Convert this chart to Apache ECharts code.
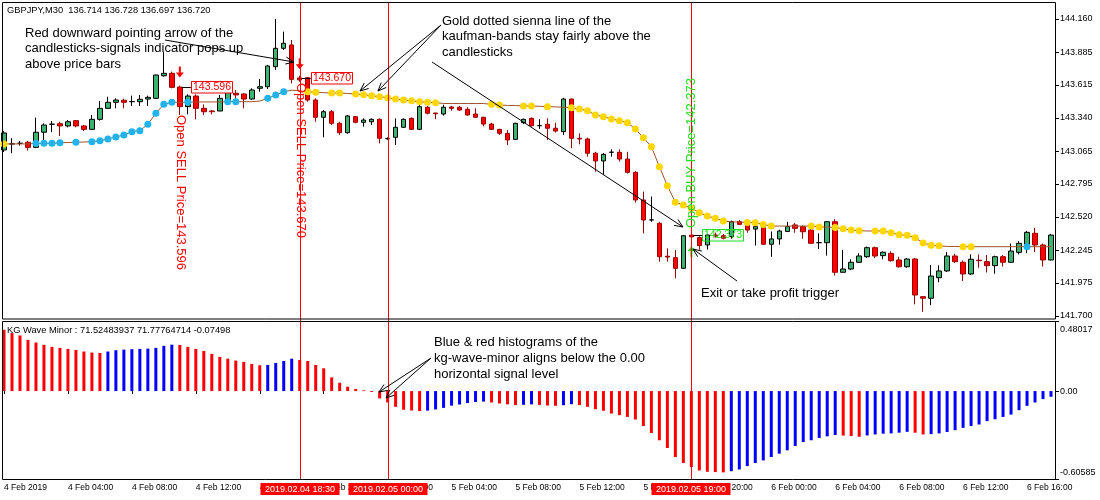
<!DOCTYPE html>
<html><head><meta charset="utf-8">
<script src="https://cdn.jsdelivr.net/npm/echarts@6.0.0/dist/echarts.min.js"></script>
<style>html,body{margin:0;padding:0;background:#fff;}#chart{width:1100px;height:500px;}</style>
</head><body><div id="chart"></div>
<script>
// ---------- DATA (GBPJPY M30) ----------
const opens = [143.075,143.125,143.130,143.139,143.097,143.222,143.288,143.293,143.274,143.318,
143.274,143.246,143.329,143.420,143.470,143.487,143.475,143.475,143.497,143.503,
143.690,143.710,143.596,143.434,143.522,143.420,143.398,143.398,143.489,143.545,
143.539,143.497,143.586,143.599,143.765,143.917,143.945,143.672,143.674,143.489,
143.346,143.392,143.296,143.218,143.351,143.304,143.309,143.329,143.168,143.180,
143.263,143.337,143.246,143.429,143.381,143.373,143.431,143.429,143.412,143.373,
143.346,143.290,143.246,143.213,143.163,143.301,143.337,143.276,143.288,143.255,
143.227,143.497,143.172,143.166,143.048,142.984,143.056,143.056,143.000,142.890,
142.661,142.495,142.468,142.195,142.183,142.095,142.370,142.349,142.288,142.371,
142.365,142.357,142.481,142.453,142.420,142.432,142.294,142.338,142.400,142.454,
142.440,142.412,142.307,142.307,142.481,142.062,142.089,142.145,142.191,142.266,
142.200,142.219,142.164,142.108,142.172,141.860,141.847,142.017,142.073,142.197,
142.145,142.048,142.162,142.150,142.117,142.191,142.145,142.227,142.294,142.385,
142.288,142.164];
const highs = [143.232,143.172,143.150,143.150,143.343,143.296,143.315,143.309,143.323,143.323,
143.282,143.365,143.481,143.516,143.503,143.500,143.525,143.530,143.525,143.700,
143.889,143.724,143.608,143.536,143.536,143.453,143.406,143.530,143.578,143.572,
143.545,143.586,143.663,143.780,144.160,144.055,143.986,143.690,143.680,143.503,
143.406,143.406,143.309,143.365,143.357,143.337,143.337,143.337,143.180,143.337,
143.337,143.345,143.450,143.440,143.383,143.450,143.440,143.440,143.430,143.420,
143.350,143.300,143.250,143.240,143.300,143.335,143.345,143.330,143.337,143.300,
143.508,143.500,143.213,143.177,143.060,143.050,143.080,143.080,143.060,142.900,
142.730,142.690,142.480,142.260,142.247,142.370,142.380,142.360,142.380,142.390,
142.380,142.490,142.495,142.460,142.460,142.445,142.400,142.415,142.480,142.470,
142.450,142.450,142.385,142.487,142.503,142.247,142.170,142.220,142.275,142.275,
142.235,142.235,142.190,142.180,142.180,141.865,142.122,142.120,142.230,142.215,
142.160,142.210,142.210,142.205,142.200,142.205,142.300,142.320,142.405,142.430,
142.300,142.380];
const lows = [143.058,143.048,143.111,143.070,143.090,143.158,143.222,143.191,143.263,143.263,
143.232,143.244,143.318,143.415,143.420,143.420,143.440,143.440,143.440,143.497,
143.682,143.586,143.365,143.371,143.329,143.365,143.371,143.396,143.480,143.448,
143.420,143.489,143.558,143.580,143.738,143.903,143.627,143.640,143.475,143.309,
143.180,143.282,143.200,143.210,143.296,143.268,143.282,143.130,143.160,143.116,
143.257,143.240,143.240,143.370,143.330,143.360,143.400,143.400,143.360,143.340,
143.270,143.240,143.200,143.116,143.160,143.290,143.270,143.250,143.158,143.220,
143.199,143.090,143.122,143.020,142.895,142.870,143.020,142.980,142.880,142.640,
142.385,142.480,142.150,142.150,142.012,142.090,142.340,142.250,142.250,142.350,
142.335,142.340,142.455,142.390,142.283,142.290,142.190,142.290,142.395,142.390,
142.340,142.300,142.255,142.200,142.034,142.060,142.080,142.140,142.180,142.180,
142.170,142.150,142.100,142.100,141.797,141.735,141.790,141.980,142.065,142.140,
141.990,142.040,142.100,142.060,142.050,142.110,142.140,142.210,142.220,142.230,
142.110,142.160];
const closes = [143.216,143.126,143.131,143.097,143.222,143.282,143.289,143.274,143.309,143.274,
143.246,143.329,143.420,143.470,143.489,143.470,143.476,143.495,143.511,143.696,
143.710,143.594,143.434,143.522,143.420,143.392,143.392,143.503,143.558,143.531,
143.497,143.572,143.599,143.771,143.917,143.959,143.660,143.655,143.489,143.346,
143.392,143.296,143.218,143.357,143.304,143.323,143.329,143.172,143.169,143.263,
143.329,143.246,143.434,143.379,143.375,143.429,143.420,143.406,143.365,143.346,
143.290,143.246,143.213,143.158,143.296,143.329,143.276,143.277,143.255,143.232,
143.497,143.172,143.166,143.048,142.984,143.039,143.057,143.000,142.890,142.661,
142.495,142.496,142.191,142.188,142.095,142.365,142.355,142.283,142.371,142.362,
142.344,142.481,142.459,142.412,142.440,142.294,142.338,142.404,142.440,142.426,
142.398,142.302,142.308,142.481,142.062,142.089,142.145,142.197,142.266,142.197,
142.228,142.158,142.108,142.172,141.874,141.847,142.031,142.073,142.197,142.150,
142.048,142.170,142.158,142.117,142.191,142.145,142.238,142.302,142.393,142.288,
142.164,142.370];
// Kaufman band line and its dots (g = gold, b = blue, - = none)
const kaufman = [143.125,143.125,143.125,143.125,143.130,143.130,143.130,143.135,143.137,143.139,
143.141,143.144,143.152,143.166,143.183,143.199,143.227,143.235,143.288,143.379,
143.453,143.470,143.470,143.472,143.473,143.473,143.473,143.473,143.475,143.475,
143.475,143.475,143.480,143.503,143.530,143.558,143.570,143.565,143.558,143.553,
143.550,143.547,143.547,143.543,143.539,143.533,143.525,143.516,143.508,143.497,
143.489,143.483,143.475,143.470,143.467,143.460,143.460,143.460,143.460,143.460,
143.460,143.453,143.448,143.444,143.444,143.439,143.439,143.437,143.434,143.432,
143.430,143.425,143.415,143.400,143.365,143.351,143.332,143.318,143.301,143.249,
143.177,143.102,142.937,142.779,142.642,142.619,142.592,142.556,142.528,142.509,
142.487,142.479,142.479,142.474,142.473,142.458,142.445,142.445,142.445,142.445,
142.445,142.445,142.437,142.437,142.433,142.423,142.412,142.407,142.404,142.404,
142.404,142.390,142.373,142.368,142.349,142.305,142.286,142.281,142.276,142.276,
142.274,142.274,142.274,142.274,142.274,142.274,142.274,142.274,142.274,142.274,
142.274,142.274];
const kaufmanDots = ('g---bbbb-b -bbbbbbbbb bb-b----bb ---bbb--gg -gg-gggggg ggggg----- ' +
  '-gg--gg-g- -ggggggggg gggggggggg g--gggg--- -gg-gggg-g gggggggg-- gg------b- --').replace(/ /g, '').split('');
// KG Wave Minor histogram
const wave = [0.420,0.397,0.381,0.351,0.333,0.317,0.303,0.296,0.289,0.282,
0.271,0.264,0.261,0.271,0.280,0.284,0.287,0.289,0.291,0.296,
0.310,0.318,0.316,0.303,0.289,0.275,0.255,0.234,0.222,0.209,
0.200,0.186,0.177,0.179,0.193,0.206,0.222,0.213,0.206,0.179,
0.156,0.094,0.057,0.030,0.014,0.005,-0.006,-0.050,-0.078,-0.108,
-0.128,-0.133,-0.137,-0.134,-0.126,-0.115,-0.100,-0.092,-0.082,-0.075,
-0.072,-0.078,-0.085,-0.091,-0.096,-0.094,-0.091,-0.095,-0.099,-0.101,
-0.097,-0.090,-0.096,-0.108,-0.124,-0.135,-0.154,-0.165,-0.177,-0.195,
-0.239,-0.287,-0.337,-0.390,-0.452,-0.493,-0.521,-0.544,-0.553,-0.555,
-0.557,-0.549,-0.537,-0.514,-0.493,-0.475,-0.452,-0.429,-0.406,-0.376,
-0.349,-0.337,-0.321,-0.310,-0.301,-0.305,-0.308,-0.313,-0.304,-0.297,
-0.292,-0.290,-0.285,-0.279,-0.285,-0.297,-0.295,-0.290,-0.280,-0.268,
-0.252,-0.239,-0.229,-0.206,-0.193,-0.177,-0.161,-0.131,-0.101,-0.078,
-0.055,-0.039];
const waveColors = ('rrrrrrrrrrrrr bbbbbbbbb rrrrrrrrrrr bbbb rrrrrrrrrrrrrrrr bbbbbbbb rrrr bb rrr bb ' +
  'rrrrrrrrrrrrrrrrrrr bbbbbbbbbbbbbb rrr bbbbbb rr bbbbbbbbbbbbbbbb').replace(/ /g, '').split('');
// axis tick labels
const priceTicks = [144.160,143.885,143.615,143.340,143.065,142.795,142.520,142.245,141.975,141.700];
const waveTicks = [0.48017, 0, -0.60585];
const waveTickLabels = ['0.48017', '0.00', '-0.60585'];
const xTickLabels = ['4 Feb 2019','4 Feb 04:00','4 Feb 08:00','4 Feb 12:00','4 Feb 16:00','4 Feb 20:00',
  '5 Feb 00:00','5 Feb 04:00','5 Feb 08:00','5 Feb 12:00','5 Feb 16:00','5 Feb 20:00',
  '6 Feb 00:00','6 Feb 04:00','6 Feb 08:00','6 Feb 12:00','6 Feb 16:00'];
// signals / trade marks
const vLineBars = [37, 48, 86];
const sellSignals = [{bar: 22, price: 143.720, openPrice: '143.596'}, {bar: 37, price: 143.790, openPrice: '143.670'}];
const buySignals = [{bar: 86, price: 142.233, openPrice: '142.373'}];
const tagPrices = {22: 143.593, 37: 143.671, 86: 142.371};
const headerText = 'GBPJPY,M30  136.714 136.728 136.697 136.720';
const waveHeader = 'KG Wave Minor : 71.52483937 71.77764714 -0.07498';

// ---------- CHART ----------
const FONT = "'Liberation Sans', Arial, sans-serif";
const N = opens.length;
const cats = [];
const pad = n => String(n).padStart(2, '0');
for (let i = 0; i < N; i++) {
  const d = new Date(Date.UTC(2019, 1, 4) + i * 1800000);
  cats.push(d.getUTCFullYear() + '.' + pad(d.getUTCMonth() + 1) + '.' + pad(d.getUTCDate()) + ' ' + pad(d.getUTCHours()) + ':' + pad(d.getUTCMinutes()));
}
const chart = echarts.init(document.getElementById('chart'), null, {renderer: 'canvas'});
const RED = '#ff0000', GREEN_TXT = '#22dd22';
const downArrow = 'path://M3,0 L5,0 L5,6 L8,6 L4,11 L0,6 L3,6 Z';
const upArrow = 'path://M3,11 L5,11 L5,5 L8,5 L4,0 L0,5 L3,5 Z';

chart.setOption({
  animation: false,
  backgroundColor: '#fff',
  grid: [
    {left: -1, top: 3, width: 1056, height: 316, show: false},
    {left: -1, top: 321, width: 1056, height: 158.5, show: false}
  ],
  xAxis: [
    {type: 'category', gridIndex: 0, data: cats, show: false, boundaryGap: true},
    {type: 'category', gridIndex: 1, data: cats, boundaryGap: true,
      axisLine: {show: false},
      axisTick: {show: true, interval: 7, alignWithLabel: true, length: 3, lineStyle: {color: '#000'}},
      axisLabel: {interval: 7, align: 'left', margin: 4, fontSize: 8.5, color: '#000', fontFamily: FONT,
        formatter: (v, idx) => xTickLabels[Math.round(idx / 8)] || ''},
      splitLine: {show: false}}
  ],
  yAxis: [
    {type: 'value', gridIndex: 0, position: 'right', min: 141.6751, max: 144.2925,
      axisLine: {show: false}, splitLine: {show: false},
      axisTick: {show: true, length: 4, customValues: priceTicks, lineStyle: {color: '#000'}},
      axisLabel: {customValues: priceTicks, formatter: v => v.toFixed(3), fontSize: 9, margin: 5, color: '#000', fontFamily: FONT}},
    {type: 'value', gridIndex: 1, position: 'right', min: -0.60585, max: 0.48017,
      axisLine: {show: false}, splitLine: {show: false},
      axisTick: {show: true, length: 4, customValues: waveTicks, lineStyle: {color: '#000'}},
      axisLabel: {customValues: waveTicks, margin: 5, color: '#000', fontFamily: FONT, fontSize: 9,
        formatter: v => {
          const k = waveTicks.findIndex(t => Math.abs(t - v) < 1e-6);
          return '{' + ['t', 'm', 'b'][k] + '|' + waveTickLabels[k] + '}';
        },
        rich: {
          t: {fontSize: 9, fontFamily: FONT, color: '#000', padding: [18, 0, 0, 0]},
          m: {fontSize: 9, fontFamily: FONT, color: '#000'},
          b: {fontSize: 9, fontFamily: FONT, color: '#000', padding: [0, 0, 13, 0]}
        }}}
  ],
  series: [
    {type: 'candlestick', name: 'GBPJPY', xAxisIndex: 0, yAxisIndex: 0, barWidth: 5, z: 2,
      data: cats.map((c, i) => [opens[i], closes[i], lows[i], highs[i]]),
      itemStyle: {color: '#3cb371', color0: '#ff0000', borderColor: '#000000', borderColor0: '#990000', borderWidth: 1}},
    {type: 'line', name: 'kaufman', xAxisIndex: 0, yAxisIndex: 0, data: kaufman, showSymbol: false, z: 3,
      lineStyle: {color: '#a0522d', width: 1}, silent: true},
    {type: 'scatter', name: 'goldDots', xAxisIndex: 0, yAxisIndex: 0, symbolSize: 7, z: 4,
      data: kaufman.map((v, i) => kaufmanDots[i] === 'g' ? v : '-'), itemStyle: {color: '#ffd700', opacity: 1}},
    {type: 'scatter', name: 'blueDots', xAxisIndex: 0, yAxisIndex: 0, symbolSize: 7, z: 4,
      data: kaufman.map((v, i) => kaufmanDots[i] === 'b' ? v : '-'), itemStyle: {color: '#1eb4f0', opacity: 1}},
    {type: 'scatter', name: 'sell', xAxisIndex: 0, yAxisIndex: 0, symbol: downArrow, symbolSize: [8, 11], z: 5,
      data: sellSignals.map(s => [cats[s.bar], s.price]), itemStyle: {color: RED, opacity: 1}},
    {type: 'scatter', name: 'buy', xAxisIndex: 0, yAxisIndex: 0, symbol: upArrow, symbolSize: [8, 11], z: 5,
      data: buySignals.map(s => [cats[s.bar], s.price]), itemStyle: {color: GREEN_TXT, opacity: 1}},
    {type: 'bar', name: 'KG Wave Minor', xAxisIndex: 1, yAxisIndex: 1, barWidth: 3, z: 2,
      data: wave.map((v, i) => ({value: v, itemStyle: {color: waveColors[i] === 'r' ? '#ff0000' : '#0000ff'}}))}
  ]
});

// ---------- annotations ----------
const px = (bar, price) => chart.convertToPixel({gridIndex: 0}, [cats[bar], price]);
const G = [];
const txt = (x, y, text, opt) => G.push(Object.assign({type: 'text', x: x, y: y, z: 100,
  style: Object.assign({text: text, fill: '#000', font: '13px ' + FONT, textVerticalAlign: 'middle', textAlign: 'left'}, opt || {})}));
const ln = (x1, y1, x2, y2, color, z) => G.push({type: 'line', z: z || 100, shape: {x1, y1, x2, y2},
  style: {stroke: color || '#000', lineWidth: 1}});
const arrow = (x1, y1, x2, y2) => {
  ln(x1, y1, x2, y2);
  const a = Math.atan2(y2 - y1, x2 - x1), L = 9, s = 0.4;
  G.push({type: 'polyline', z: 100, shape: {points: [[x2 - L * Math.cos(a - s), y2 - L * Math.sin(a - s)], [x2, y2],
    [x2 - L * Math.cos(a + s), y2 - L * Math.sin(a + s)]]}, style: {stroke: '#000', lineWidth: 1, fill: 'none'}});
};
// vertical event lines, placed through the category scale
vLineBars.forEach(b => {
  const x = Math.round(chart.convertToPixel({xAxisIndex: 1}, cats[b])) + 0.5;
  ln(x, 3, x, 480, RED, 50);
});
// panel frames
G.push({type: 'rect', z: 90, shape: {x: 2.5, y: 2.5, width: 1053, height: 316.5}, style: {fill: 'none', stroke: '#000', lineWidth: 1}});
G.push({type: 'rect', z: 90, shape: {x: 2.5, y: 321.5, width: 1053, height: 158}, style: {fill: 'none', stroke: '#000', lineWidth: 1}});
// headers
txt(7, 10.5, headerText, {font: '9.3px ' + FONT});
txt(7, 330, waveHeader, {font: '9.3px ' + FONT});
// text notes
txt(25, 33, 'Red downward pointing arrow of the');
txt(25, 48.5, 'candlesticks-signals indicator pops up');
txt(25, 64, 'above price bars');
txt(442, 21, 'Gold dotted sienna line of the');
txt(442, 36.5, 'kaufman-bands stay fairly above the');
txt(442, 52, 'candlesticks');
txt(434, 342, 'Blue & red histograms of the');
txt(434, 358, 'kg-wave-minor aligns below the 0.00');
txt(434, 374, 'horizontal signal level');
txt(701, 293, 'Exit or take profit trigger');
arrow(165, 40, 294, 62);
arrow(441, 25, 360, 91);
arrow(441, 25, 378, 91);
arrow(432, 62, 683, 227);
arrow(737, 281, 693, 249);
arrow(431, 358, 379, 392);
arrow(431, 358, 386, 398);
// trade texts and price tags
sellSignals.forEach((s, k) => {
  const p = px(s.bar, tagPrices[s.bar]);
  const startY = k === 0 ? 115 : 83;
  G.push({type: 'text', x: p[0] + 0.5, y: startY, rotation: -Math.PI / 2, z: 95,
    style: {text: 'Open SELL Price=' + s.openPrice, fill: RED, font: '13px ' + FONT, textAlign: 'left', textVerticalAlign: 'middle'}});
  ln(p[0] + 2, Math.round(p[1]) + 0.5, p[0] + 11, Math.round(p[1]) + 0.5);
  G.push({type: 'rect', z: 96, shape: {x: Math.round(p[0]) + 11.5, y: Math.round(p[1]) - 5.5, width: 41, height: 11.5},
    style: {fill: '#fff', stroke: RED, lineWidth: 1}});
  G.push({type: 'text', z: 97, x: Math.round(p[0]) + 32, y: Math.round(p[1]) + 0.5,
    style: {text: s.openPrice, fill: RED, font: '10.5px ' + FONT, textAlign: 'center', textVerticalAlign: 'middle'}});
});
buySignals.forEach(s => {
  const p = px(s.bar, tagPrices[s.bar]);
  G.push({type: 'text', x: p[0] + 0.5, y: 228, rotation: Math.PI / 2, z: 95,
    style: {text: 'Open BUY Price=' + s.openPrice, fill: GREEN_TXT, font: '13px ' + FONT, textAlign: 'left', textVerticalAlign: 'middle'}});
  ln(p[0] + 2, Math.round(p[1]) + 0.5, p[0] + 11, Math.round(p[1]) + 0.5);
  G.push({type: 'rect', z: 96, shape: {x: Math.round(p[0]) + 11.5, y: Math.round(p[1]) - 5.5, width: 41, height: 11.5},
    style: {fill: 'rgba(255,255,255,0)', stroke: GREEN_TXT, lineWidth: 1}});
  G.push({type: 'text', z: 97, x: Math.round(p[0]) + 32, y: Math.round(p[1]) + 0.5,
    style: {text: s.openPrice, fill: GREEN_TXT, font: '10.5px ' + FONT, textAlign: 'center', textVerticalAlign: 'middle'}});
});
// time boxes for vertical lines
vLineBars.forEach(b => {
  const x = chart.convertToPixel({xAxisIndex: 1}, cats[b]);
  G.push({type: 'rect', z: 110, shape: {x: Math.round(x) - 39.5, y: 483, width: 79, height: 12}, style: {fill: RED, stroke: 'none'}});
  G.push({type: 'text', z: 111, x: Math.round(x), y: 489.5,
    style: {text: cats[b], fill: '#fff', font: '9px ' + FONT, textAlign: 'center', textVerticalAlign: 'middle'}});
});
chart.setOption({graphic: {elements: G}});
</script>
</body></html>
